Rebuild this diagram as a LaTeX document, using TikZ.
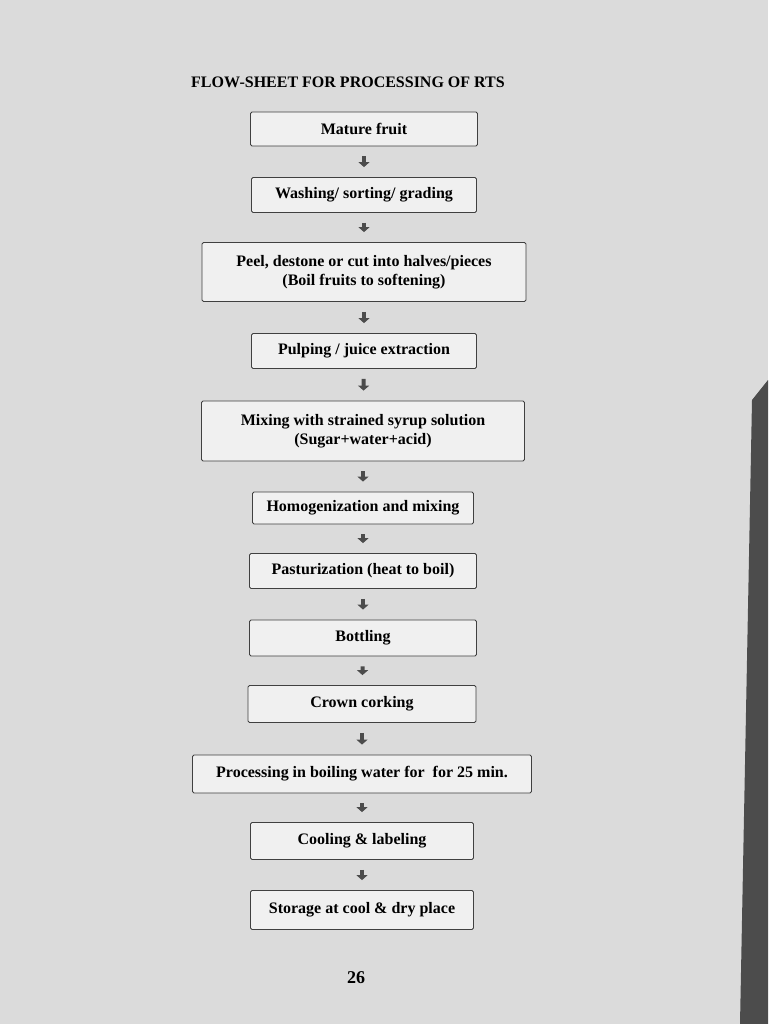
\documentclass[tikz,border=0pt]{standalone}
\usepackage{fontspec}
\setmainfont{Liberation Serif}
\usetikzlibrary{arrows.meta}
\begin{document}
\begin{tikzpicture}[x=1pt,y=-1pt,
 box/.style={draw=black!75,line width=0.8pt,rounded corners=1.5pt,fill=white!88!gray,font=\bfseries\fontsize{16}{19}\selectfont,align=center,inner sep=0pt},
 arr/.style={draw=black!70,line width=4pt,-{Triangle[width=11pt,length=5pt]},shorten >=10pt,shorten <=10pt}]
\useasboundingbox (0,0) rectangle (768,1024);
\fill[gray!28] (0,0) rectangle (768,1024);
\fill[gray!60!black] (752,400) -- (768,380) -- (768,1024) -- (740,1024) -- cycle;
\node[font=\bfseries\fontsize{16}{18}\selectfont] (t) at (348,82) {FLOW-SHEET FOR PROCESSING OF RTS};
\node[box,minimum width=227,minimum height=34] (n1) at (364,129) {Mature fruit};
\node[box,minimum width=225,minimum height=35] (n2) at (364,195) {Washing/ sorting/ grading};
\node[box,minimum width=324,minimum height=59] (n3) at (364,272) {Peel, destone or cut into halves/pieces\\(Boil fruits to softening)};
\node[box,minimum width=225,minimum height=35] (n4) at (364,351) {Pulping / juice extraction};
\node[box,minimum width=323,minimum height=60] (n5) at (363,431) {Mixing with strained syrup solution\\(Sugar+water+acid)};
\node[box,minimum width=221,minimum height=32] (n6) at (363,508) {Homogenization and mixing};
\node[box,minimum width=227,minimum height=35] (n7) at (363,571) {Pasturization (heat to boil)};
\node[box,minimum width=227,minimum height=36] (n8) at (363,638) {Bottling};
\node[box,minimum width=228,minimum height=37] (n9) at (362,704) {Crown corking};
\node[box,minimum width=339,minimum height=38] (n10) at (362,774) {Processing in boiling water for\ \ for 25 min.};
\node[box,minimum width=223,minimum height=37] (n11) at (362,841) {Cooling \& labeling};
\node[box,minimum width=223,minimum height=39] (n12) at (362,910) {Storage at cool \& dry place};
\foreach \a/\b in {n1/n2,n2/n3,n3/n4,n4/n5,n5/n6,n6/n7,n7/n8,n8/n9,n9/n10,n10/n11,n11/n12}
  \draw[arr] (\a) -- (\b);
\node[font=\bfseries\fontsize{18}{20}\selectfont] (pg) at (356,978) {26};
\end{tikzpicture}
\end{document}
